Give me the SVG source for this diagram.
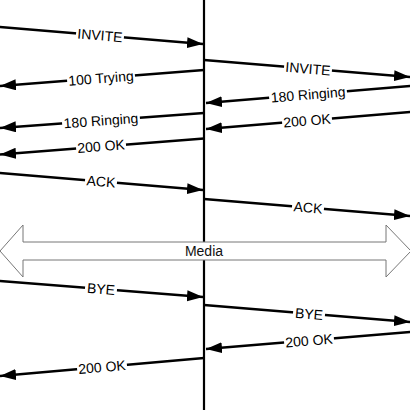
<svg xmlns="http://www.w3.org/2000/svg" width="410" height="410" viewBox="0 0 410 410">
<style>
.msg{stroke:#000;stroke-width:2.4;fill:none;marker-end:url(#ah)}
.lbl text{font-family:"Liberation Sans",Arial,sans-serif;font-size:14px;fill:#000;text-anchor:middle;dominant-baseline:central}
.lbl rect{fill:#fff}
</style>
<defs>
<marker id="ah" markerUnits="userSpaceOnUse" markerWidth="17" markerHeight="12" refX="16" refY="5.5" orient="auto">
<path d="M0,0 L16,5.5 L0,11 z" fill="#000"/>
</marker>
</defs>
<rect width="410" height="410" fill="#fff"/>
<g id="lifeline"><line x1="204" y1="0" x2="204" y2="410" stroke="#000" stroke-width="2.2"/></g>
<g id="connectors">
<line class="msg" x1="-5" y1="26.6" x2="203" y2="44"/>
<line class="msg" x1="204" y1="70" x2="0" y2="86"/>
<line class="msg" x1="204" y1="113" x2="0" y2="128"/>
<line class="msg" x1="204" y1="138.5" x2="0" y2="154.5"/>
<line class="msg" x1="-5" y1="172.6" x2="203" y2="190"/>
<line class="msg" x1="-5" y1="280.6" x2="203" y2="297"/>
<line class="msg" x1="204" y1="358" x2="0" y2="376"/>
<line class="msg" x1="204" y1="60" x2="410" y2="77"/>
<line class="msg" x1="415" y1="85.6" x2="206" y2="103"/>
<line class="msg" x1="415" y1="111.6" x2="206" y2="129"/>
<line class="msg" x1="204" y1="199" x2="410" y2="216"/>
<line class="msg" x1="204" y1="305" x2="410" y2="322"/>
<line class="msg" x1="415" y1="331.6" x2="206" y2="349"/>
</g>
<g id="media">
<polygon points="0,251 23,225 23,242 386,242 386,225 411,251 386,277 386,260 23,260 23,277" fill="#fff" stroke="#777" stroke-width="1"/>
<text x="204" y="251" font-family="Liberation Sans,Arial,sans-serif" font-size="14" fill="#111" text-anchor="middle" dominant-baseline="central">Media</text>
</g>
<g class="lbl">
<g id="l-invite1" transform="translate(100,35.3) rotate(4.76)"><rect x="-24" y="-7" width="48" height="14"/><text>INVITE</text></g>
<g id="l-trying" transform="translate(101,78.1) rotate(-4.48)"><rect x="-34" y="-7" width="68" height="14"/><text>100 Trying</text></g>
<g id="l-ring1" transform="translate(101,120.6) rotate(-4.2)"><rect x="-39" y="-7" width="78" height="14"/><text>180 Ringing</text></g>
<g id="l-ok1" transform="translate(101,146.1) rotate(-4.5)"><rect x="-25" y="-7" width="50" height="14"/><text>200 OK</text></g>
<g id="l-ack1" transform="translate(101,181.4) rotate(4.76)"><rect x="-16" y="-7" width="32" height="14"/><text>ACK</text></g>
<g id="l-bye1" transform="translate(101,289) rotate(4.6)"><rect x="-16" y="-7" width="32" height="14"/><text>BYE</text></g>
<g id="l-ok3" transform="translate(102,367) rotate(-5)"><rect x="-25" y="-7" width="50" height="14"/><text>200 OK</text></g>
<g id="l-invite2" transform="translate(308,68.6) rotate(4.7)"><rect x="-24" y="-7" width="48" height="14"/><text>INVITE</text></g>
<g id="l-ring2" transform="translate(308,94.5) rotate(-4.7)"><rect x="-39" y="-7" width="78" height="14"/><text>180 Ringing</text></g>
<g id="l-ok2" transform="translate(307,120.5) rotate(-4.7)"><rect x="-25" y="-7" width="50" height="14"/><text>200 OK</text></g>
<g id="l-ack2" transform="translate(308,207.5) rotate(4.7)"><rect x="-16" y="-7" width="32" height="14"/><text>ACK</text></g>
<g id="l-bye2" transform="translate(309,314) rotate(4.7)"><rect x="-16" y="-7" width="32" height="14"/><text>BYE</text></g>
<g id="l-ok4" transform="translate(309,340.5) rotate(-4.7)"><rect x="-25" y="-7" width="50" height="14"/><text>200 OK</text></g>
</g>
</svg>
